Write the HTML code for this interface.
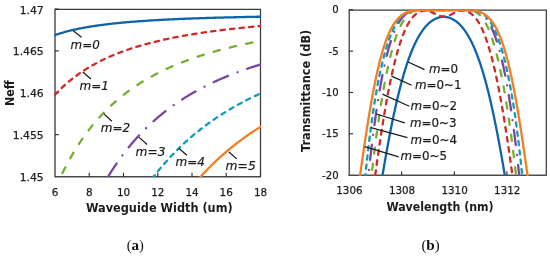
<!DOCTYPE html>
<html><head><meta charset="utf-8"><title>Figure</title>
<style>html,body{margin:0;padding:0;background:#fff}svg{display:block}</style></head>
<body>
<svg width="550" height="258" viewBox="0 0 550 258">
<rect width="550" height="258" fill="#fff"/>
<path d="M55.0 9.25 H260.5 V176.75" fill="none" stroke="#3a3a3a" stroke-width="1.25"/>
<path d="M55.0 8.75 V176.75 H261.0" fill="none" stroke="#484848" stroke-width="1.4"/>
<path d="M89.2 176.75 v-4.1" stroke="#2a2a2a" stroke-width="1.1"/>
<path d="M123.5 176.75 v-4.1" stroke="#2a2a2a" stroke-width="1.1"/>
<path d="M157.8 176.75 v-4.1" stroke="#2a2a2a" stroke-width="1.1"/>
<path d="M192.0 176.75 v-4.1" stroke="#2a2a2a" stroke-width="1.1"/>
<path d="M226.2 176.75 v-4.1" stroke="#2a2a2a" stroke-width="1.1"/>
<path d="M260.5 176.75 v-4.1" stroke="#2a2a2a" stroke-width="1.1"/>
<path d="M55.0 9.1 h3.9" stroke="#2a2a2a" stroke-width="1.1"/>
<path d="M55.0 50.9 h3.9" stroke="#2a2a2a" stroke-width="1.1"/>
<path d="M55.0 92.8 h3.9" stroke="#2a2a2a" stroke-width="1.1"/>
<path d="M55.0 134.7 h3.9" stroke="#2a2a2a" stroke-width="1.1"/>
<clipPath id="ca"><rect x="54.4" y="8.65" width="206.7" height="168.7"/></clipPath>
<g clip-path="url(#ca)" fill="none" stroke-linecap="round" stroke-width="2.30">
<path d="M55.00 35.05 L56.00 34.71 L57.00 34.37 L58.00 34.05 L59.00 33.73 L60.00 33.42 L61.00 33.12 L62.00 32.82 L63.00 32.53 L64.00 32.25 L65.00 31.97 L66.00 31.70 L67.00 31.44 L68.00 31.18 L69.00 30.93 L70.00 30.68 L71.00 30.44 L72.00 30.20 L73.00 29.97 L74.00 29.74 L75.00 29.52 L76.00 29.30 L77.00 29.09 L78.00 28.88 L79.00 28.67 L80.00 28.47 L81.00 28.27 L82.00 28.08 L83.00 27.89 L84.00 27.71 L85.00 27.52 L86.00 27.35 L87.00 27.17 L88.00 27.00 L89.00 26.83 L90.00 26.67 L91.00 26.50 L92.00 26.35 L93.00 26.19 L94.00 26.04 L95.00 25.89 L96.00 25.74 L97.00 25.59 L98.00 25.45 L99.00 25.31 L100.00 25.17 L101.00 25.04 L102.00 24.91 L103.00 24.78 L104.00 24.65 L105.00 24.52 L106.00 24.40 L107.00 24.28 L108.00 24.16 L109.00 24.04 L110.00 23.92 L111.00 23.81 L112.00 23.70 L113.00 23.59 L114.00 23.48 L115.00 23.37 L116.00 23.27 L117.00 23.17 L118.00 23.07 L119.00 22.97 L120.00 22.87 L121.00 22.77 L122.00 22.68 L123.00 22.58 L124.00 22.49 L125.00 22.40 L126.00 22.31 L127.00 22.22 L128.00 22.14 L129.00 22.05 L130.00 21.97 L131.00 21.88 L132.00 21.80 L133.00 21.72 L134.00 21.64 L135.00 21.56 L136.00 21.49 L137.00 21.41 L138.00 21.34 L139.00 21.26 L140.00 21.19 L141.00 21.12 L142.00 21.05 L143.00 20.98 L144.00 20.91 L145.00 20.84 L146.00 20.78 L147.00 20.71 L148.00 20.65 L149.00 20.58 L150.00 20.52 L151.00 20.46 L152.00 20.40 L153.00 20.34 L154.00 20.28 L155.00 20.22 L156.00 20.16 L157.00 20.10 L158.00 20.05 L159.00 19.99 L160.00 19.94 L161.00 19.88 L162.00 19.83 L163.00 19.77 L164.00 19.72 L165.00 19.67 L166.00 19.62 L167.00 19.57 L168.00 19.52 L169.00 19.47 L170.00 19.42 L171.00 19.37 L172.00 19.33 L173.00 19.28 L174.00 19.23 L175.00 19.19 L176.00 19.14 L177.00 19.10 L178.00 19.06 L179.00 19.01 L180.00 18.97 L181.00 18.93 L182.00 18.89 L183.00 18.84 L184.00 18.80 L185.00 18.76 L186.00 18.72 L187.00 18.68 L188.00 18.65 L189.00 18.61 L190.00 18.57 L191.00 18.53 L192.00 18.49 L193.00 18.46 L194.00 18.42 L195.00 18.39 L196.00 18.35 L197.00 18.32 L198.00 18.28 L199.00 18.25 L200.00 18.21 L201.00 18.18 L202.00 18.15 L203.00 18.11 L204.00 18.08 L205.00 18.05 L206.00 18.02 L207.00 17.99 L208.00 17.95 L209.00 17.92 L210.00 17.89 L211.00 17.86 L212.00 17.83 L213.00 17.80 L214.00 17.77 L215.00 17.75 L216.00 17.72 L217.00 17.69 L218.00 17.66 L219.00 17.63 L220.00 17.61 L221.00 17.58 L222.00 17.55 L223.00 17.53 L224.00 17.50 L225.00 17.47 L226.00 17.45 L227.00 17.42 L228.00 17.40 L229.00 17.37 L230.00 17.35 L231.00 17.32 L232.00 17.30 L233.00 17.28 L234.00 17.25 L235.00 17.23 L236.00 17.20 L237.00 17.18 L238.00 17.16 L239.00 17.14 L240.00 17.11 L241.00 17.09 L242.00 17.07 L243.00 17.05 L244.00 17.03 L245.00 17.01 L246.00 16.98 L247.00 16.96 L248.00 16.94 L249.00 16.92 L250.00 16.90 L251.00 16.88 L252.00 16.86 L253.00 16.84 L254.00 16.82 L255.00 16.80 L256.00 16.78 L257.00 16.77 L258.00 16.75 L259.00 16.73 L260.00 16.71 L261.00 16.69" stroke="#0F63A8"/>
<path d="M55.00 94.70 L56.00 93.63 L57.00 92.58 L58.00 91.56 L59.00 90.55 L60.00 89.56 L61.00 88.59 L62.00 87.64 L63.00 86.71 L64.00 85.79 L65.00 84.89 L66.00 84.00 L67.00 83.13 L68.00 82.28 L69.00 81.44 L70.00 80.61 L71.00 79.80 L72.00 79.00 L73.00 78.22 L74.00 77.45 L75.00 76.69 L76.00 75.95 L77.00 75.21 L78.00 74.49 L79.00 73.79 L80.00 73.09 L81.00 72.41 L82.00 71.73 L83.00 71.07 L84.00 70.42 L85.00 69.78 L86.00 69.14 L87.00 68.52 L88.00 67.91 L89.00 67.31 L90.00 66.72 L91.00 66.13 L92.00 65.56 L93.00 64.99 L94.00 64.43 L95.00 63.89 L96.00 63.34 L97.00 62.81 L98.00 62.29 L99.00 61.77 L100.00 61.26 L101.00 60.76 L102.00 60.27 L103.00 59.78 L104.00 59.30 L105.00 58.83 L106.00 58.36 L107.00 57.90 L108.00 57.45 L109.00 57.00 L110.00 56.56 L111.00 56.13 L112.00 55.70 L113.00 55.28 L114.00 54.86 L115.00 54.45 L116.00 54.05 L117.00 53.65 L118.00 53.26 L119.00 52.87 L120.00 52.48 L121.00 52.11 L122.00 51.73 L123.00 51.37 L124.00 51.00 L125.00 50.64 L126.00 50.29 L127.00 49.94 L128.00 49.60 L129.00 49.26 L130.00 48.92 L131.00 48.59 L132.00 48.26 L133.00 47.94 L134.00 47.62 L135.00 47.31 L136.00 47.00 L137.00 46.69 L138.00 46.39 L139.00 46.09 L140.00 45.79 L141.00 45.50 L142.00 45.21 L143.00 44.92 L144.00 44.64 L145.00 44.37 L146.00 44.09 L147.00 43.82 L148.00 43.55 L149.00 43.29 L150.00 43.02 L151.00 42.77 L152.00 42.51 L153.00 42.26 L154.00 42.01 L155.00 41.76 L156.00 41.52 L157.00 41.28 L158.00 41.04 L159.00 40.80 L160.00 40.57 L161.00 40.34 L162.00 40.11 L163.00 39.89 L164.00 39.66 L165.00 39.44 L166.00 39.23 L167.00 39.01 L168.00 38.80 L169.00 38.59 L170.00 38.38 L171.00 38.17 L172.00 37.97 L173.00 37.77 L174.00 37.57 L175.00 37.37 L176.00 37.18 L177.00 36.99 L178.00 36.79 L179.00 36.61 L180.00 36.42 L181.00 36.23 L182.00 36.05 L183.00 35.87 L184.00 35.69 L185.00 35.52 L186.00 35.34 L187.00 35.17 L188.00 34.99 L189.00 34.82 L190.00 34.66 L191.00 34.49 L192.00 34.33 L193.00 34.16 L194.00 34.00 L195.00 33.84 L196.00 33.68 L197.00 33.53 L198.00 33.37 L199.00 33.22 L200.00 33.07 L201.00 32.92 L202.00 32.77 L203.00 32.62 L204.00 32.47 L205.00 32.33 L206.00 32.19 L207.00 32.04 L208.00 31.90 L209.00 31.76 L210.00 31.63 L211.00 31.49 L212.00 31.35 L213.00 31.22 L214.00 31.09 L215.00 30.96 L216.00 30.83 L217.00 30.70 L218.00 30.57 L219.00 30.44 L220.00 30.32 L221.00 30.19 L222.00 30.07 L223.00 29.95 L224.00 29.83 L225.00 29.71 L226.00 29.59 L227.00 29.47 L228.00 29.36 L229.00 29.24 L230.00 29.13 L231.00 29.01 L232.00 28.90 L233.00 28.79 L234.00 28.68 L235.00 28.57 L236.00 28.46 L237.00 28.35 L238.00 28.25 L239.00 28.14 L240.00 28.04 L241.00 27.93 L242.00 27.83 L243.00 27.73 L244.00 27.63 L245.00 27.53 L246.00 27.43 L247.00 27.33 L248.00 27.23 L249.00 27.14 L250.00 27.04 L251.00 26.95 L252.00 26.85 L253.00 26.76 L254.00 26.66 L255.00 26.57 L256.00 26.48 L257.00 26.39 L258.00 26.30 L259.00 26.21 L260.00 26.12 L261.00 26.04" stroke="#CF2A28" stroke-dasharray="4.35 5.2"/>
<path d="M62.50 172.99 L63.50 170.97 L64.50 168.99 L65.50 167.04 L66.50 165.13 L67.50 163.25 L68.50 161.41 L69.50 159.60 L70.50 157.81 L71.50 156.07 L72.50 154.35 L73.50 152.66 L74.50 151.00 L75.50 149.36 L76.50 147.76 L77.50 146.18 L78.50 144.63 L79.50 143.10 L80.50 141.60 L81.50 140.13 L82.50 138.68 L83.50 137.25 L84.50 135.84 L85.50 134.46 L86.50 133.10 L87.50 131.76 L88.50 130.45 L89.50 129.15 L90.50 127.88 L91.50 126.62 L92.50 125.38 L93.50 124.17 L94.50 122.97 L95.50 121.79 L96.50 120.63 L97.50 119.48 L98.50 118.35 L99.50 117.24 L100.50 116.15 L101.50 115.07 L102.50 114.01 L103.50 112.96 L104.50 111.93 L105.50 110.92 L106.50 109.92 L107.50 108.93 L108.50 107.96 L109.50 107.00 L110.50 106.05 L111.50 105.12 L112.50 104.20 L113.50 103.30 L114.50 102.41 L115.50 101.52 L116.50 100.66 L117.50 99.80 L118.50 98.95 L119.50 98.12 L120.50 97.30 L121.50 96.49 L122.50 95.69 L123.50 94.90 L124.50 94.12 L125.50 93.35 L126.50 92.59 L127.50 91.85 L128.50 91.11 L129.50 90.38 L130.50 89.66 L131.50 88.95 L132.50 88.25 L133.50 87.56 L134.50 86.87 L135.50 86.20 L136.50 85.53 L137.50 84.88 L138.50 84.23 L139.50 83.58 L140.50 82.95 L141.50 82.33 L142.50 81.71 L143.50 81.10 L144.50 80.50 L145.50 79.90 L146.50 79.31 L147.50 78.73 L148.50 78.16 L149.50 77.59 L150.50 77.03 L151.50 76.48 L152.50 75.93 L153.50 75.39 L154.50 74.86 L155.50 74.33 L156.50 73.81 L157.50 73.29 L158.50 72.78 L159.50 72.28 L160.50 71.78 L161.50 71.29 L162.50 70.80 L163.50 70.32 L164.50 69.84 L165.50 69.37 L166.50 68.91 L167.50 68.45 L168.50 67.99 L169.50 67.54 L170.50 67.10 L171.50 66.66 L172.50 66.22 L173.50 65.79 L174.50 65.37 L175.50 64.95 L176.50 64.53 L177.50 64.12 L178.50 63.71 L179.50 63.31 L180.50 62.91 L181.50 62.51 L182.50 62.12 L183.50 61.74 L184.50 61.35 L185.50 60.98 L186.50 60.60 L187.50 60.23 L188.50 59.86 L189.50 59.50 L190.50 59.14 L191.50 58.79 L192.50 58.44 L193.50 58.09 L194.50 57.74 L195.50 57.40 L196.50 57.07 L197.50 56.73 L198.50 56.40 L199.50 56.07 L200.50 55.75 L201.50 55.43 L202.50 55.11 L203.50 54.79 L204.50 54.48 L205.50 54.17 L206.50 53.87 L207.50 53.57 L208.50 53.27 L209.50 52.97 L210.50 52.68 L211.50 52.38 L212.50 52.10 L213.50 51.81 L214.50 51.53 L215.50 51.25 L216.50 50.97 L217.50 50.70 L218.50 50.42 L219.50 50.15 L220.50 49.89 L221.50 49.62 L222.50 49.36 L223.50 49.10 L224.50 48.84 L225.50 48.59 L226.50 48.33 L227.50 48.08 L228.50 47.84 L229.50 47.59 L230.50 47.35 L231.50 47.10 L232.50 46.87 L233.50 46.63 L234.50 46.39 L235.50 46.16 L236.50 45.93 L237.50 45.70 L238.50 45.47 L239.50 45.25 L240.50 45.03 L241.50 44.81 L242.50 44.59 L243.50 44.37 L244.50 44.15 L245.50 43.94 L246.50 43.73 L247.50 43.52 L248.50 43.31 L249.50 43.11 L250.50 42.90 L251.50 42.70 L252.50 42.50 L253.50 42.30 L254.50 42.10 L255.50 41.91 L256.50 41.71 L257.50 41.52 L258.50 41.33 L259.50 41.14 L260.50 40.95" stroke="#76AE2F" stroke-dasharray="6.4 10.31"/>
<path d="M107.00 178.48 L108.00 176.82 L109.00 175.18 L110.00 173.57 L111.00 171.98 L112.00 170.41 L113.00 168.87 L114.00 167.34 L115.00 165.84 L116.00 164.37 L117.00 162.91 L118.00 161.47 L119.00 160.05 L120.00 158.66 L121.00 157.28 L122.00 155.92 L123.00 154.58 L124.00 153.26 L125.00 151.96 L126.00 150.67 L127.00 149.41 L128.00 148.15 L129.00 146.92 L130.00 145.70 L131.00 144.50 L132.00 143.32 L133.00 142.15 L134.00 140.99 L135.00 139.86 L136.00 138.73 L137.00 137.62 L138.00 136.53 L139.00 135.45 L140.00 134.38 L141.00 133.33 L142.00 132.29 L143.00 131.26 L144.00 130.25 L145.00 129.25 L146.00 128.26 L147.00 127.28 L148.00 126.32 L149.00 125.37 L150.00 124.43 L151.00 123.50 L152.00 122.58 L153.00 121.67 L154.00 120.78 L155.00 119.89 L156.00 119.02 L157.00 118.16 L158.00 117.30 L159.00 116.46 L160.00 115.63 L161.00 114.80 L162.00 113.99 L163.00 113.19 L164.00 112.39 L165.00 111.61 L166.00 110.83 L167.00 110.06 L168.00 109.30 L169.00 108.55 L170.00 107.81 L171.00 107.08 L172.00 106.35 L173.00 105.64 L174.00 104.93 L175.00 104.23 L176.00 103.53 L177.00 102.85 L178.00 102.17 L179.00 101.50 L180.00 100.84 L181.00 100.18 L182.00 99.53 L183.00 98.89 L184.00 98.26 L185.00 97.63 L186.00 97.01 L187.00 96.39 L188.00 95.79 L189.00 95.19 L190.00 94.59 L191.00 94.00 L192.00 93.42 L193.00 92.84 L194.00 92.27 L195.00 91.71 L196.00 91.15 L197.00 90.60 L198.00 90.05 L199.00 89.51 L200.00 88.97 L201.00 88.44 L202.00 87.92 L203.00 87.40 L204.00 86.88 L205.00 86.37 L206.00 85.87 L207.00 85.37 L208.00 84.87 L209.00 84.38 L210.00 83.90 L211.00 83.42 L212.00 82.94 L213.00 82.47 L214.00 82.01 L215.00 81.55 L216.00 81.09 L217.00 80.64 L218.00 80.19 L219.00 79.74 L220.00 79.30 L221.00 78.87 L222.00 78.44 L223.00 78.01 L224.00 77.59 L225.00 77.17 L226.00 76.75 L227.00 76.34 L228.00 75.93 L229.00 75.53 L230.00 75.13 L231.00 74.73 L232.00 74.34 L233.00 73.95 L234.00 73.57 L235.00 73.18 L236.00 72.81 L237.00 72.43 L238.00 72.06 L239.00 71.69 L240.00 71.33 L241.00 70.96 L242.00 70.60 L243.00 70.25 L244.00 69.90 L245.00 69.55 L246.00 69.20 L247.00 68.86 L248.00 68.52 L249.00 68.18 L250.00 67.85 L251.00 67.52 L252.00 67.19 L253.00 66.86 L254.00 66.54 L255.00 66.22 L256.00 65.90 L257.00 65.59 L258.00 65.28 L259.00 64.97 L260.00 64.66 L261.00 64.36" stroke="#7B45A0" stroke-dasharray="15.7 10.15 0.01 10.14" stroke-dashoffset="33.98"/>
<path d="M153.30 177.12 L154.30 175.82 L155.30 174.55 L156.30 173.28 L157.30 172.04 L158.30 170.80 L159.30 169.58 L160.30 168.38 L161.30 167.18 L162.30 166.00 L163.30 164.84 L164.30 163.69 L165.30 162.55 L166.30 161.42 L167.30 160.31 L168.30 159.20 L169.30 158.11 L170.30 157.04 L171.30 155.97 L172.30 154.92 L173.30 153.87 L174.30 152.84 L175.30 151.82 L176.30 150.81 L177.30 149.81 L178.30 148.83 L179.30 147.85 L180.30 146.88 L181.30 145.92 L182.30 144.98 L183.30 144.04 L184.30 143.11 L185.30 142.20 L186.30 141.29 L187.30 140.39 L188.30 139.50 L189.30 138.62 L190.30 137.75 L191.30 136.89 L192.30 136.04 L193.30 135.19 L194.30 134.35 L195.30 133.53 L196.30 132.71 L197.30 131.90 L198.30 131.09 L199.30 130.30 L200.30 129.51 L201.30 128.73 L202.30 127.96 L203.30 127.20 L204.30 126.44 L205.30 125.69 L206.30 124.95 L207.30 124.21 L208.30 123.48 L209.30 122.76 L210.30 122.05 L211.30 121.34 L212.30 120.64 L213.30 119.95 L214.30 119.26 L215.30 118.58 L216.30 117.91 L217.30 117.24 L218.30 116.58 L219.30 115.92 L220.30 115.27 L221.30 114.63 L222.30 113.99 L223.30 113.36 L224.30 112.73 L225.30 112.11 L226.30 111.50 L227.30 110.89 L228.30 110.29 L229.30 109.69 L230.30 109.10 L231.30 108.51 L232.30 107.93 L233.30 107.35 L234.30 106.78 L235.30 106.21 L236.30 105.65 L237.30 105.10 L238.30 104.54 L239.30 104.00 L240.30 103.46 L241.30 102.92 L242.30 102.39 L243.30 101.86 L244.30 101.33 L245.30 100.82 L246.30 100.30 L247.30 99.79 L248.30 99.29 L249.30 98.78 L250.30 98.29 L251.30 97.79 L252.30 97.31 L253.30 96.82 L254.30 96.34 L255.30 95.86 L256.30 95.39 L257.30 94.92 L258.30 94.46 L259.30 94.00 L260.30 93.54 L261.30 93.09" stroke="#0E9DBB" stroke-dasharray="4.3 5.2" stroke-dashoffset="1.88"/>
<path d="M200.30 177.10 L201.30 175.99 L202.30 174.89 L203.30 173.80 L204.30 172.72 L205.30 171.66 L206.30 170.61 L207.30 169.56 L208.30 168.53 L209.30 167.51 L210.30 166.50 L211.30 165.50 L212.30 164.51 L213.30 163.54 L214.30 162.57 L215.30 161.61 L216.30 160.66 L217.30 159.72 L218.30 158.80 L219.30 157.88 L220.30 156.97 L221.30 156.07 L222.30 155.17 L223.30 154.29 L224.30 153.42 L225.30 152.55 L226.30 151.70 L227.30 150.85 L228.30 150.01 L229.30 149.18 L230.30 148.35 L231.30 147.54 L232.30 146.73 L233.30 145.93 L234.30 145.14 L235.30 144.36 L236.30 143.58 L237.30 142.81 L238.30 142.05 L239.30 141.30 L240.30 140.55 L241.30 139.81 L242.30 139.08 L243.30 138.35 L244.30 137.63 L245.30 136.92 L246.30 136.21 L247.30 135.51 L248.30 134.82 L249.30 134.13 L250.30 133.45 L251.30 132.78 L252.30 132.11 L253.30 131.45 L254.30 130.80 L255.30 130.15 L256.30 129.50 L257.30 128.86 L258.30 128.23 L259.30 127.61 L260.30 126.99 L261.30 126.37" stroke="#F57E20"/>
</g>
<g font-family="'DejaVu Sans','Liberation Sans',sans-serif" fill="#1c1c1c">
<g font-size="10.8" text-anchor="end" stroke="#222" stroke-width="0.25">
<text x="43.7" y="13.6">1.47</text>
<text x="43.7" y="55.4">1.465</text>
<text x="43.7" y="97.3">1.46</text>
<text x="43.7" y="139.2">1.455</text>
<text x="43.7" y="181.1">1.45</text>
</g>
<g font-size="10.4" text-anchor="middle" stroke="#222" stroke-width="0.25">
<text x="55.0" y="196.4">6</text>
<text x="89.2" y="196.4">8</text>
<text x="123.5" y="196.4">10</text>
<text x="157.8" y="196.4">12</text>
<text x="192.0" y="196.4">14</text>
<text x="226.2" y="196.4">16</text>
<text x="260.5" y="196.4">18</text>
</g>
<text x="159.3" y="212.3" font-size="12.6" font-weight="bold" text-anchor="middle" font-family="'DejaVu Sans Condensed','DejaVu Sans','Liberation Sans',sans-serif">Waveguide Width (um)</text>
<text transform="translate(13.9 93.1) rotate(-90)" font-size="12.4" font-weight="bold" text-anchor="middle" font-family="'DejaVu Sans Condensed','DejaVu Sans','Liberation Sans',sans-serif">Neff</text>
<path d="M73.2 30.8 L81.5 37.3" stroke="#1a1a1a" stroke-width="1.25"/>
<text x="70.6" y="48.5" font-size="11.9" font-style="italic" stroke="#222" stroke-width="0.2">m=0</text>
<path d="M82.8 72 L90.9 79" stroke="#1a1a1a" stroke-width="1.25"/>
<text x="79.5" y="90.1" font-size="12.0" font-style="italic" stroke="#222" stroke-width="0.2">m=1</text>
<path d="M103.7 113.6 L111.8 121.3" stroke="#1a1a1a" stroke-width="1.25"/>
<text x="100.7" y="132.0" font-size="12.0" font-style="italic" stroke="#222" stroke-width="0.2">m=2</text>
<path d="M138.8 137.1 L147.1 144.5" stroke="#1a1a1a" stroke-width="1.25"/>
<text x="135.6" y="156.0" font-size="12.2" font-style="italic" stroke="#222" stroke-width="0.2">m=3</text>
<path d="M178.8 148.3 L186.9 155.3" stroke="#1a1a1a" stroke-width="1.25"/>
<text x="175.6" y="166.0" font-size="12.0" font-style="italic" stroke="#222" stroke-width="0.2">m=4</text>
<path d="M228.9 152 L236.8 158.9" stroke="#1a1a1a" stroke-width="1.25"/>
<text x="225.6" y="170.4" font-size="12.3" font-style="italic" stroke="#222" stroke-width="0.2">m=5</text>
<path d="M349.1 10.0 H546.3 V175.3" fill="none" stroke="#3a3a3a" stroke-width="1.25"/>
<path d="M349.20000000000005 9.5 V175.9" fill="none" stroke="#363636" stroke-width="1.25"/>
<path d="M348.6 175.20000000000002 H546.8" fill="none" stroke="#4c4c4c" stroke-width="1.5"/>
<path d="M401.7 175.3 v-4.1" stroke="#2a2a2a" stroke-width="1.1"/>
<path d="M454.3 175.3 v-4.1" stroke="#2a2a2a" stroke-width="1.1"/>
<path d="M506.9 175.3 v-4.1" stroke="#2a2a2a" stroke-width="1.1"/>
<path d="M349.1 9.8 h3.9" stroke="#2a2a2a" stroke-width="1.1"/>
<path d="M349.1 51.1 h3.9" stroke="#2a2a2a" stroke-width="1.1"/>
<path d="M349.1 92.5 h3.9" stroke="#2a2a2a" stroke-width="1.1"/>
<path d="M349.1 133.8 h3.9" stroke="#2a2a2a" stroke-width="1.1"/>
<clipPath id="cb"><rect x="348.5" y="9.7" width="198.39999999999992" height="166.20000000000002"/></clipPath>
<g clip-path="url(#cb)" fill="none" stroke-linecap="round" stroke-width="2.30">
<path d="M379.65 192.49 L380.15 189.43 L380.65 186.38 L381.15 183.34 L381.65 180.33 L382.15 177.33 L382.65 174.36 L383.15 171.40 L383.65 168.47 L384.15 165.56 L384.65 162.67 L385.15 159.80 L385.65 156.96 L386.15 154.15 L386.65 151.36 L387.15 148.60 L387.65 145.87 L388.15 143.16 L388.65 140.48 L389.15 137.83 L389.65 135.21 L390.15 132.62 L390.65 130.06 L391.15 127.53 L391.65 125.03 L392.15 122.56 L392.65 120.13 L393.15 117.72 L393.65 115.35 L394.15 113.00 L394.65 110.69 L395.15 108.42 L395.65 106.17 L396.15 103.96 L396.65 101.78 L397.15 99.63 L397.65 97.51 L398.15 95.43 L398.65 93.38 L399.15 91.36 L399.65 89.38 L400.15 87.43 L400.65 85.51 L401.15 83.62 L401.65 81.76 L402.15 79.94 L402.65 78.15 L403.15 76.39 L403.65 74.67 L404.15 72.97 L404.65 71.31 L405.15 69.68 L405.65 68.08 L406.15 66.51 L406.65 64.97 L407.15 63.46 L407.65 61.98 L408.15 60.53 L408.65 59.11 L409.15 57.73 L409.65 56.37 L410.15 55.04 L410.65 53.74 L411.15 52.46 L411.65 51.22 L412.15 50.00 L412.65 48.81 L413.15 47.65 L413.65 46.51 L414.15 45.41 L414.65 44.32 L415.15 43.27 L415.65 42.24 L416.15 41.23 L416.65 40.26 L417.15 39.30 L417.65 38.37 L418.15 37.46 L418.65 36.58 L419.15 35.72 L419.65 34.89 L420.15 34.08 L420.65 33.29 L421.15 32.52 L421.65 31.78 L422.15 31.05 L422.65 30.35 L423.15 29.67 L423.65 29.01 L424.15 28.37 L424.65 27.75 L425.15 27.15 L425.65 26.57 L426.15 26.01 L426.65 25.47 L427.15 24.95 L427.65 24.44 L428.15 23.96 L428.65 23.49 L429.15 23.04 L429.65 22.61 L430.15 22.19 L430.65 21.79 L431.15 21.41 L431.65 21.05 L432.15 20.70 L432.65 20.37 L433.15 20.05 L433.65 19.76 L434.15 19.47 L434.65 19.20 L435.15 18.95 L435.65 18.71 L436.15 18.49 L436.65 18.28 L437.15 18.09 L437.65 17.91 L438.15 17.75 L438.65 17.60 L439.15 17.47 L439.65 17.35 L440.15 17.24 L440.65 17.15 L441.15 17.07 L441.65 17.01 L442.15 16.96 L442.65 16.93 L443.15 16.91 L443.65 16.90 L444.15 16.91 L444.65 16.93 L445.15 16.96 L445.65 17.01 L446.15 17.07 L446.65 17.15 L447.15 17.24 L447.65 17.35 L448.15 17.47 L448.65 17.60 L449.15 17.75 L449.65 17.91 L450.15 18.09 L450.65 18.28 L451.15 18.49 L451.65 18.71 L452.15 18.95 L452.65 19.20 L453.15 19.47 L453.65 19.76 L454.15 20.05 L454.65 20.37 L455.15 20.70 L455.65 21.05 L456.15 21.41 L456.65 21.79 L457.15 22.19 L457.65 22.61 L458.15 23.04 L458.65 23.49 L459.15 23.96 L459.65 24.44 L460.15 24.95 L460.65 25.47 L461.15 26.01 L461.65 26.57 L462.15 27.15 L462.65 27.75 L463.15 28.37 L463.65 29.01 L464.15 29.67 L464.65 30.35 L465.15 31.05 L465.65 31.78 L466.15 32.52 L466.65 33.29 L467.15 34.08 L467.65 34.89 L468.15 35.72 L468.65 36.58 L469.15 37.46 L469.65 38.37 L470.15 39.30 L470.65 40.26 L471.15 41.23 L471.65 42.24 L472.15 43.27 L472.65 44.32 L473.15 45.41 L473.65 46.51 L474.15 47.65 L474.65 48.81 L475.15 50.00 L475.65 51.22 L476.15 52.46 L476.65 53.74 L477.15 55.04 L477.65 56.37 L478.15 57.73 L478.65 59.11 L479.15 60.53 L479.65 61.98 L480.15 63.46 L480.65 64.97 L481.15 66.51 L481.65 68.08 L482.15 69.68 L482.65 71.31 L483.15 72.97 L483.65 74.67 L484.15 76.39 L484.65 78.15 L485.15 79.94 L485.65 81.76 L486.15 83.62 L486.65 85.51 L487.15 87.43 L487.65 89.38 L488.15 91.36 L488.65 93.38 L489.15 95.43 L489.65 97.51 L490.15 99.63 L490.65 101.78 L491.15 103.96 L491.65 106.17 L492.15 108.42 L492.65 110.69 L493.15 113.00 L493.65 115.35 L494.15 117.72 L494.65 120.13 L495.15 122.56 L495.65 125.03 L496.15 127.53 L496.65 130.06 L497.15 132.62 L497.65 135.21 L498.15 137.83 L498.65 140.48 L499.15 143.16 L499.65 145.87 L500.15 148.60 L500.65 151.36 L501.15 154.15 L501.65 156.96 L502.15 159.80 L502.65 162.67 L503.15 165.56 L503.65 168.47 L504.15 171.40 L504.65 174.36 L505.15 177.33 L505.65 180.33 L506.15 183.34 L506.65 186.38 L507.15 189.43 L507.65 192.49" stroke="#0F63A8"/>
<path d="M374.17 183.00 L374.48 180.65 L374.79 178.32 L375.10 176.01 L375.41 173.72 L375.72 171.45 L376.03 169.21 L376.33 166.98 L376.64 164.78 L376.94 162.59 L377.24 160.43 L377.54 158.29 L377.84 156.17 L378.14 154.07 L378.44 151.99 L378.74 149.93 L379.04 147.89 L379.33 145.87 L379.63 143.87 L379.92 141.89 L380.22 139.92 L380.51 137.98 L380.80 136.06 L381.09 134.16 L381.38 132.28 L381.67 130.41 L381.96 128.57 L382.25 126.74 L382.54 124.93 L382.83 123.15 L383.11 121.38 L383.40 119.63 L383.68 117.89 L383.96 116.18 L384.25 114.49 L384.53 112.81 L384.81 111.15 L385.09 109.51 L385.37 107.89 L385.65 106.28 L385.93 104.69 L386.21 103.12 L386.49 101.57 L386.77 100.04 L387.04 98.52 L387.32 97.02 L387.60 95.53 L387.87 94.07 L388.14 92.62 L388.42 91.19 L388.69 89.77 L388.97 88.37 L389.24 86.99 L389.51 85.62 L389.78 84.27 L390.05 82.94 L390.32 81.62 L390.59 80.32 L390.86 79.04 L391.13 77.77 L391.40 76.52 L391.67 75.28 L391.93 74.06 L392.20 72.85 L392.47 71.66 L392.73 70.48 L393.00 69.32 L393.26 68.17 L393.53 67.04 L393.79 65.93 L394.05 64.83 L394.32 63.74 L394.58 62.67 L394.84 61.61 L395.11 60.57 L395.37 59.54 L395.63 58.52 L395.89 57.52 L396.15 56.54 L396.41 55.57 L396.67 54.61 L396.93 53.66 L397.19 52.73 L397.44 51.81 L397.70 50.91 L397.96 50.02 L398.22 49.14 L398.47 48.27 L398.73 47.42 L398.99 46.58 L399.24 45.76 L399.50 44.94 L399.75 44.14 L400.01 43.35 L400.26 42.58 L400.52 41.81 L400.77 41.06 L401.02 40.32 L401.27 39.59 L401.53 38.88 L401.78 38.18 L402.03 37.48 L402.28 36.80 L402.53 36.13 L402.78 35.48 L403.03 34.83 L403.28 34.20 L403.53 33.57 L403.78 32.96 L404.03 32.36 L404.28 31.77 L404.53 31.19 L404.78 30.62 L405.02 30.06 L405.27 29.51 L405.52 28.97 L405.76 28.45 L406.01 27.93 L406.25 27.42 L406.50 26.92 L406.74 26.44 L406.99 25.96 L407.23 25.49 L407.48 25.03 L407.72 24.58 L407.96 24.14 L408.21 23.71 L408.45 23.29 L408.69 22.88 L408.93 22.47 L409.17 22.08 L409.41 21.69 L409.65 21.31 L409.89 20.95 L410.13 20.59 L410.37 20.23 L410.61 19.89 L410.85 19.56 L411.09 19.23 L411.32 18.91 L411.56 18.60 L411.80 18.29 L412.03 18.00 L412.27 17.71 L412.51 17.43 L412.74 17.16 L412.98 16.89 L413.21 16.63 L413.44 16.38 L413.68 16.13 L413.91 15.90 L414.14 15.66 L414.37 15.44 L414.60 15.22 L414.84 15.01 L415.07 14.81 L415.30 14.61 L415.53 14.41 L415.75 14.23 L415.98 14.05 L416.21 13.87 L416.44 13.70 L416.67 13.54 L416.89 13.38 L417.12 13.23 L417.34 13.09 L417.57 12.95 L417.79 12.81 L418.02 12.68 L418.24 12.55 L418.46 12.43 L418.68 12.32 L418.90 12.21 L419.13 12.10 L419.35 12.00 L419.56 11.90 L419.78 11.81 L420.00 11.72 L420.22 11.63 L420.44 11.55 L420.65 11.47 L420.87 11.40 L421.08 11.33 L421.29 11.27 L421.51 11.20 L421.72 11.15 L421.93 11.09 L422.14 11.04 L422.35 10.99 L422.56 10.94 L422.77 10.90 L422.97 10.86 L423.18 10.82 L423.38 10.79 L423.59 10.76 L423.79 10.73 L423.99 10.70 L424.19 10.67 L424.39 10.65 L424.59 10.63 L424.79 10.61 L424.98 10.60 L425.17 10.58 L425.37 10.57 L425.56 10.56 L425.75 10.56 L425.93 10.57 L426.12 10.57 L426.30 10.58 L426.48 10.60 L426.66 10.62 L426.84 10.64 L427.01 10.66 L427.18 10.69 L427.35 10.72 L427.51 10.75 L427.67 10.78 L427.82 10.82 L427.96 10.85 L428.07 10.88 L428.57 11.01 L429.07 11.16 L429.57 11.33 L430.07 11.52 L430.57 11.72 L431.07 11.93 L431.57 12.15 L432.07 12.39 L432.57 12.63 L433.07 12.88 L433.57 13.13 L434.07 13.38 L434.57 13.64 L435.07 13.89 L435.57 14.15 L436.07 14.39 L436.57 14.64 L437.07 14.87 L437.57 15.09 L438.07 15.30 L438.57 15.50 L439.07 15.68 L439.57 15.85 L440.07 16.00 L440.57 16.13 L441.07 16.25 L441.57 16.34 L442.07 16.41 L442.57 16.46 L443.07 16.49 L444.17 16.50 L444.67 16.49 L445.17 16.45 L445.67 16.39 L446.17 16.31 L446.67 16.22 L447.17 16.10 L447.67 15.96 L448.17 15.80 L448.67 15.63 L449.17 15.44 L449.67 15.24 L450.17 15.03 L450.67 14.80 L451.17 14.57 L451.67 14.32 L452.17 14.07 L452.67 13.82 L453.17 13.56 L453.67 13.31 L454.17 13.05 L454.67 12.80 L455.17 12.56 L455.67 12.32 L456.17 12.09 L456.67 11.87 L457.17 11.66 L457.67 11.46 L458.17 11.28 L458.67 11.12 L459.53 10.88 L459.64 10.85 L459.78 10.82 L459.93 10.78 L460.09 10.75 L460.25 10.72 L460.42 10.69 L460.59 10.66 L460.76 10.64 L460.94 10.62 L461.12 10.60 L461.30 10.58 L461.48 10.57 L461.67 10.57 L461.85 10.56 L462.04 10.56 L462.23 10.57 L462.43 10.58 L462.62 10.60 L462.81 10.61 L463.01 10.63 L463.21 10.65 L463.41 10.67 L463.61 10.70 L463.81 10.73 L464.01 10.76 L464.22 10.79 L464.42 10.82 L464.63 10.86 L464.83 10.90 L465.04 10.94 L465.25 10.99 L465.46 11.04 L465.67 11.09 L465.88 11.15 L466.09 11.20 L466.31 11.27 L466.52 11.33 L466.73 11.40 L466.95 11.47 L467.16 11.55 L467.38 11.63 L467.60 11.72 L467.82 11.81 L468.04 11.90 L468.25 12.00 L468.47 12.10 L468.70 12.21 L468.92 12.32 L469.14 12.43 L469.36 12.55 L469.58 12.68 L469.81 12.81 L470.03 12.95 L470.26 13.09 L470.48 13.23 L470.71 13.38 L470.93 13.54 L471.16 13.70 L471.39 13.87 L471.62 14.05 L471.85 14.23 L472.07 14.41 L472.30 14.61 L472.53 14.81 L472.76 15.01 L473.00 15.22 L473.23 15.44 L473.46 15.66 L473.69 15.90 L473.92 16.13 L474.16 16.38 L474.39 16.63 L474.62 16.89 L474.86 17.16 L475.09 17.43 L475.33 17.71 L475.57 18.00 L475.80 18.29 L476.04 18.60 L476.28 18.91 L476.51 19.23 L476.75 19.56 L476.99 19.89 L477.23 20.23 L477.47 20.59 L477.71 20.95 L477.95 21.31 L478.19 21.69 L478.43 22.08 L478.67 22.47 L478.91 22.88 L479.15 23.29 L479.39 23.71 L479.64 24.14 L479.88 24.58 L480.12 25.03 L480.37 25.49 L480.61 25.96 L480.86 26.44 L481.10 26.92 L481.35 27.42 L481.59 27.93 L481.84 28.45 L482.08 28.97 L482.33 29.51 L482.58 30.06 L482.82 30.62 L483.07 31.19 L483.32 31.77 L483.57 32.36 L483.82 32.96 L484.07 33.57 L484.32 34.20 L484.57 34.83 L484.82 35.48 L485.07 36.13 L485.32 36.80 L485.57 37.48 L485.82 38.18 L486.07 38.88 L486.33 39.59 L486.58 40.32 L486.83 41.06 L487.08 41.81 L487.34 42.58 L487.59 43.35 L487.85 44.14 L488.10 44.94 L488.36 45.76 L488.61 46.58 L488.87 47.42 L489.13 48.27 L489.38 49.14 L489.64 50.02 L489.90 50.91 L490.16 51.81 L490.41 52.73 L490.67 53.66 L490.93 54.61 L491.19 55.57 L491.45 56.54 L491.71 57.52 L491.97 58.52 L492.23 59.54 L492.49 60.57 L492.76 61.61 L493.02 62.67 L493.28 63.74 L493.55 64.83 L493.81 65.93 L494.07 67.04 L494.34 68.17 L494.60 69.32 L494.87 70.48 L495.13 71.66 L495.40 72.85 L495.67 74.06 L495.93 75.28 L496.20 76.52 L496.47 77.77 L496.74 79.04 L497.01 80.32 L497.28 81.62 L497.55 82.94 L497.82 84.27 L498.09 85.62 L498.36 86.99 L498.63 88.37 L498.91 89.77 L499.18 91.19 L499.46 92.62 L499.73 94.07 L500.00 95.53 L500.28 97.02 L500.56 98.52 L500.83 100.04 L501.11 101.57 L501.39 103.12 L501.67 104.69 L501.95 106.28 L502.23 107.89 L502.51 109.51 L502.79 111.15 L503.07 112.81 L503.35 114.49 L503.64 116.18 L503.92 117.89 L504.20 119.63 L504.49 121.38 L504.77 123.15 L505.06 124.93 L505.35 126.74 L505.64 128.57 L505.93 130.41 L506.22 132.28 L506.51 134.16 L506.80 136.06 L507.09 137.98 L507.38 139.92 L507.68 141.89 L507.97 143.87 L508.27 145.87 L508.56 147.89 L508.86 149.93 L509.16 151.99 L509.46 154.07 L509.76 156.17 L510.06 158.29 L510.36 160.43 L510.66 162.59 L510.96 164.78 L511.27 166.98 L511.57 169.21 L511.88 171.45 L512.19 173.72 L512.50 176.01 L512.81 178.32 L513.12 180.65 L513.43 183.00" stroke="#CF2A28" stroke-dasharray="4.6 5.6" stroke-dashoffset="2.06"/>
<path d="M370.70 183.00 L370.96 180.65 L371.22 178.31 L371.48 176.00 L371.74 173.71 L372.00 171.44 L372.26 169.19 L372.52 166.96 L372.78 164.76 L373.04 162.57 L373.29 160.41 L373.55 158.26 L373.81 156.14 L374.07 154.03 L374.33 151.95 L374.58 149.89 L374.84 147.85 L375.10 145.82 L375.35 143.82 L375.61 141.84 L375.87 139.87 L376.12 137.93 L376.38 136.01 L376.64 134.10 L376.89 132.22 L377.15 130.35 L377.40 128.50 L377.66 126.68 L377.91 124.87 L378.17 123.08 L378.42 121.31 L378.68 119.55 L378.93 117.82 L379.19 116.10 L379.44 114.41 L379.69 112.73 L379.95 111.07 L380.20 109.42 L380.45 107.80 L380.71 106.19 L380.96 104.60 L381.21 103.03 L381.46 101.48 L381.72 99.94 L381.97 98.42 L382.22 96.92 L382.47 95.43 L382.72 93.97 L382.97 92.51 L383.22 91.08 L383.47 89.66 L383.72 88.26 L383.97 86.88 L384.22 85.51 L384.47 84.16 L384.72 82.83 L384.97 81.51 L385.22 80.20 L385.47 78.92 L385.72 77.65 L385.97 76.39 L386.21 75.15 L386.46 73.93 L386.71 72.72 L386.96 71.53 L387.20 70.35 L387.45 69.19 L387.70 68.04 L387.94 66.91 L388.19 65.79 L388.44 64.69 L388.68 63.60 L388.93 62.53 L389.17 61.47 L389.42 60.43 L389.66 59.40 L389.91 58.38 L390.15 57.38 L390.39 56.39 L390.64 55.42 L390.88 54.46 L391.12 53.51 L391.37 52.58 L391.61 51.66 L391.85 50.75 L392.09 49.86 L392.34 48.98 L392.58 48.12 L392.82 47.26 L393.06 46.42 L393.30 45.60 L393.54 44.78 L393.78 43.98 L394.02 43.19 L394.26 42.41 L394.50 41.65 L394.74 40.90 L394.98 40.16 L395.22 39.43 L395.46 38.71 L395.69 38.01 L395.93 37.32 L396.17 36.63 L396.41 35.96 L396.64 35.31 L396.88 34.66 L397.12 34.02 L397.35 33.40 L397.59 32.79 L397.82 32.18 L398.06 31.59 L398.29 31.01 L398.53 30.44 L398.76 29.88 L398.99 29.33 L399.23 28.80 L399.46 28.27 L399.69 27.75 L399.92 27.24 L400.16 26.74 L400.39 26.25 L400.62 25.78 L400.85 25.31 L401.08 24.85 L401.31 24.40 L401.54 23.96 L401.77 23.53 L402.00 23.10 L402.23 22.69 L402.46 22.29 L402.69 21.89 L402.91 21.50 L403.14 21.13 L403.37 20.76 L403.59 20.40 L403.82 20.05 L404.05 19.70 L404.27 19.37 L404.50 19.04 L404.72 18.72 L404.95 18.41 L405.17 18.10 L405.39 17.81 L405.62 17.52 L405.84 17.24 L406.06 16.96 L406.28 16.70 L406.50 16.44 L406.72 16.18 L406.94 15.94 L407.16 15.70 L407.38 15.47 L407.60 15.25 L407.82 15.03 L408.04 14.82 L408.25 14.61 L408.47 14.41 L408.69 14.22 L408.90 14.03 L409.12 13.85 L409.33 13.68 L409.55 13.51 L409.76 13.34 L409.98 13.19 L410.19 13.04 L410.40 12.89 L410.61 12.75 L410.82 12.61 L411.03 12.48 L411.24 12.36 L411.45 12.23 L411.66 12.12 L411.87 12.01 L412.07 11.90 L412.28 11.80 L412.49 11.70 L412.69 11.61 L412.90 11.52 L413.10 11.43 L413.30 11.35 L413.51 11.28 L413.71 11.20 L413.91 11.13 L414.11 11.07 L414.31 11.00 L414.51 10.95 L414.70 10.89 L414.90 10.84 L415.10 10.79 L415.29 10.74 L415.48 10.70 L415.68 10.66 L415.87 10.62 L416.06 10.59 L416.25 10.56 L416.44 10.53 L416.62 10.50 L416.81 10.48 L417.00 10.45 L417.18 10.43 L417.36 10.41 L417.54 10.40 L417.72 10.38 L417.90 10.37 L418.08 10.36 L418.25 10.35 L418.42 10.34 L418.59 10.33 L418.76 10.32 L418.93 10.32 L419.09 10.31 L419.26 10.31 L419.41 10.31 L419.57 10.30 L419.72 10.30 L419.87 10.30 L420.01 10.30 L420.14 10.30 L420.27 10.30 L420.37 10.30 L420.87 10.30 L421.37 10.30 L421.87 10.30 L422.37 10.30 L422.87 10.30 L423.37 10.30 L423.87 10.30 L424.37 10.30 L424.87 10.30 L425.37 10.30 L425.87 10.30 L426.37 10.30 L426.87 10.30 L427.37 10.30 L427.87 10.30 L428.37 10.30 L428.87 10.30 L429.37 10.30 L429.87 10.30 L430.37 10.30 L430.87 10.30 L431.37 10.30 L431.87 10.30 L432.37 10.30 L432.87 10.30 L433.37 10.30 L433.87 10.30 L434.37 10.30 L434.87 10.30 L435.37 10.30 L435.87 10.30 L436.37 10.30 L436.87 10.30 L437.37 10.30 L437.87 10.30 L438.37 10.30 L438.87 10.30 L439.37 10.30 L439.87 10.30 L440.37 10.30 L440.87 10.30 L441.37 10.30 L441.87 10.30 L442.37 10.30 L442.87 10.30 L443.37 10.30 L444.47 10.30 L444.97 10.30 L445.47 10.30 L445.97 10.30 L446.47 10.30 L446.97 10.30 L447.47 10.30 L447.97 10.30 L448.47 10.30 L448.97 10.30 L449.47 10.30 L449.97 10.30 L450.47 10.30 L450.97 10.30 L451.47 10.30 L451.97 10.30 L452.47 10.30 L452.97 10.30 L453.47 10.30 L453.97 10.30 L454.47 10.30 L454.97 10.30 L455.47 10.30 L455.97 10.30 L456.47 10.30 L456.97 10.30 L457.47 10.30 L457.97 10.30 L458.47 10.30 L458.97 10.30 L459.47 10.30 L459.97 10.30 L460.47 10.30 L460.97 10.30 L461.47 10.30 L461.97 10.30 L462.47 10.30 L462.97 10.30 L463.47 10.30 L463.97 10.30 L464.47 10.30 L464.97 10.30 L465.47 10.30 L465.97 10.30 L466.47 10.30 L467.23 10.30 L467.33 10.30 L467.46 10.30 L467.59 10.30 L467.73 10.30 L467.88 10.30 L468.03 10.30 L468.19 10.31 L468.34 10.31 L468.51 10.31 L468.67 10.32 L468.84 10.32 L469.01 10.33 L469.18 10.34 L469.35 10.35 L469.52 10.36 L469.70 10.37 L469.88 10.38 L470.06 10.40 L470.24 10.41 L470.42 10.43 L470.60 10.45 L470.79 10.48 L470.98 10.50 L471.16 10.53 L471.35 10.56 L471.54 10.59 L471.73 10.62 L471.92 10.66 L472.12 10.70 L472.31 10.74 L472.50 10.79 L472.70 10.84 L472.90 10.89 L473.09 10.95 L473.29 11.00 L473.49 11.07 L473.69 11.13 L473.89 11.20 L474.09 11.28 L474.30 11.35 L474.50 11.43 L474.70 11.52 L474.91 11.61 L475.11 11.70 L475.32 11.80 L475.53 11.90 L475.73 12.01 L475.94 12.12 L476.15 12.23 L476.36 12.36 L476.57 12.48 L476.78 12.61 L476.99 12.75 L477.20 12.89 L477.41 13.04 L477.62 13.19 L477.84 13.34 L478.05 13.51 L478.27 13.68 L478.48 13.85 L478.70 14.03 L478.91 14.22 L479.13 14.41 L479.35 14.61 L479.56 14.82 L479.78 15.03 L480.00 15.25 L480.22 15.47 L480.44 15.70 L480.66 15.94 L480.88 16.18 L481.10 16.44 L481.32 16.70 L481.54 16.96 L481.76 17.24 L481.98 17.52 L482.21 17.81 L482.43 18.10 L482.65 18.41 L482.88 18.72 L483.10 19.04 L483.33 19.37 L483.55 19.70 L483.78 20.05 L484.01 20.40 L484.23 20.76 L484.46 21.13 L484.69 21.50 L484.91 21.89 L485.14 22.29 L485.37 22.69 L485.60 23.10 L485.83 23.53 L486.06 23.96 L486.29 24.40 L486.52 24.85 L486.75 25.31 L486.98 25.78 L487.21 26.25 L487.44 26.74 L487.68 27.24 L487.91 27.75 L488.14 28.27 L488.37 28.80 L488.61 29.33 L488.84 29.88 L489.07 30.44 L489.31 31.01 L489.54 31.59 L489.78 32.18 L490.01 32.79 L490.25 33.40 L490.48 34.02 L490.72 34.66 L490.96 35.31 L491.19 35.96 L491.43 36.63 L491.67 37.32 L491.91 38.01 L492.14 38.71 L492.38 39.43 L492.62 40.16 L492.86 40.90 L493.10 41.65 L493.34 42.41 L493.58 43.19 L493.82 43.98 L494.06 44.78 L494.30 45.60 L494.54 46.42 L494.78 47.26 L495.02 48.12 L495.26 48.98 L495.51 49.86 L495.75 50.75 L495.99 51.66 L496.23 52.58 L496.48 53.51 L496.72 54.46 L496.96 55.42 L497.21 56.39 L497.45 57.38 L497.69 58.38 L497.94 59.40 L498.18 60.43 L498.43 61.47 L498.67 62.53 L498.92 63.60 L499.16 64.69 L499.41 65.79 L499.66 66.91 L499.90 68.04 L500.15 69.19 L500.40 70.35 L500.64 71.53 L500.89 72.72 L501.14 73.93 L501.39 75.15 L501.63 76.39 L501.88 77.65 L502.13 78.92 L502.38 80.20 L502.63 81.51 L502.88 82.83 L503.13 84.16 L503.38 85.51 L503.63 86.88 L503.88 88.26 L504.13 89.66 L504.38 91.08 L504.63 92.51 L504.88 93.97 L505.13 95.43 L505.38 96.92 L505.63 98.42 L505.88 99.94 L506.14 101.48 L506.39 103.03 L506.64 104.60 L506.89 106.19 L507.15 107.80 L507.40 109.42 L507.65 111.07 L507.91 112.73 L508.16 114.41 L508.41 116.10 L508.67 117.82 L508.92 119.55 L509.18 121.31 L509.43 123.08 L509.69 124.87 L509.94 126.68 L510.20 128.50 L510.45 130.35 L510.71 132.22 L510.96 134.10 L511.22 136.01 L511.48 137.93 L511.73 139.87 L511.99 141.84 L512.25 143.82 L512.50 145.82 L512.76 147.85 L513.02 149.89 L513.27 151.95 L513.53 154.03 L513.79 156.14 L514.05 158.26 L514.31 160.41 L514.56 162.57 L514.82 164.76 L515.08 166.96 L515.34 169.19 L515.60 171.44 L515.86 173.71 L516.12 176.00 L516.38 178.31 L516.64 180.65 L516.90 183.00" stroke="#76AE2F" stroke-dasharray="6.2 10.16" stroke-dashoffset="3.22"/>
<path d="M367.58 183.00 L367.83 180.64 L368.07 178.31 L368.32 176.00 L368.56 173.70 L368.81 171.43 L369.05 169.18 L369.29 166.95 L369.54 164.75 L369.78 162.56 L370.03 160.39 L370.27 158.25 L370.52 156.12 L370.76 154.02 L371.01 151.93 L371.25 149.87 L371.49 147.83 L371.74 145.80 L371.98 143.80 L372.23 141.81 L372.47 139.85 L372.72 137.90 L372.96 135.98 L373.21 134.07 L373.45 132.19 L373.69 130.32 L373.94 128.47 L374.18 126.64 L374.43 124.83 L374.67 123.04 L374.91 121.27 L375.16 119.52 L375.40 117.78 L375.65 116.06 L375.89 114.37 L376.13 112.69 L376.38 111.02 L376.62 109.38 L376.87 107.75 L377.11 106.15 L377.35 104.56 L377.60 102.98 L377.84 101.43 L378.09 99.89 L378.33 98.37 L378.57 96.87 L378.82 95.38 L379.06 93.91 L379.31 92.46 L379.55 91.03 L379.79 89.61 L380.04 88.21 L380.28 86.82 L380.52 85.46 L380.77 84.10 L381.01 82.77 L381.25 81.45 L381.50 80.14 L381.74 78.86 L381.99 77.59 L382.23 76.33 L382.47 75.09 L382.72 73.87 L382.96 72.66 L383.20 71.46 L383.45 70.29 L383.69 69.12 L383.93 67.98 L384.18 66.84 L384.42 65.72 L384.66 64.62 L384.91 63.53 L385.15 62.46 L385.39 61.40 L385.64 60.36 L385.88 59.32 L386.12 58.31 L386.36 57.31 L386.61 56.32 L386.85 55.34 L387.09 54.38 L387.34 53.44 L387.58 52.50 L387.82 51.58 L388.07 50.68 L388.31 49.78 L388.55 48.90 L388.79 48.04 L389.04 47.18 L389.28 46.34 L389.52 45.52 L389.77 44.70 L390.01 43.90 L390.25 43.11 L390.49 42.33 L390.74 41.57 L390.98 40.81 L391.22 40.07 L391.46 39.35 L391.71 38.63 L391.95 37.92 L392.19 37.23 L392.43 36.55 L392.68 35.88 L392.92 35.22 L393.16 34.57 L393.40 33.94 L393.64 33.31 L393.89 32.70 L394.13 32.10 L394.37 31.51 L394.61 30.92 L394.85 30.35 L395.10 29.79 L395.34 29.24 L395.58 28.71 L395.82 28.18 L396.06 27.66 L396.31 27.15 L396.55 26.65 L396.79 26.16 L397.03 25.68 L397.27 25.22 L397.51 24.76 L397.76 24.31 L398.00 23.86 L398.24 23.43 L398.48 23.01 L398.72 22.60 L398.96 22.19 L399.20 21.80 L399.45 21.41 L399.69 21.03 L399.93 20.66 L400.17 20.30 L400.41 19.95 L400.65 19.61 L400.89 19.27 L401.13 18.94 L401.37 18.62 L401.62 18.31 L401.86 18.01 L402.10 17.71 L402.34 17.42 L402.58 17.14 L402.82 16.87 L403.06 16.60 L403.30 16.34 L403.54 16.09 L403.78 15.84 L404.02 15.60 L404.26 15.37 L404.50 15.15 L404.74 14.93 L404.98 14.72 L405.22 14.51 L405.46 14.31 L405.70 14.12 L405.94 13.93 L406.18 13.75 L406.42 13.58 L406.66 13.41 L406.90 13.25 L407.14 13.09 L407.38 12.94 L407.62 12.79 L407.86 12.65 L408.10 12.51 L408.34 12.38 L408.58 12.26 L408.82 12.14 L409.06 12.02 L409.30 11.91 L409.54 11.80 L409.77 11.70 L410.01 11.60 L410.25 11.51 L410.49 11.42 L410.73 11.33 L410.97 11.25 L411.21 11.18 L411.44 11.10 L411.68 11.03 L411.92 10.97 L412.16 10.91 L412.40 10.85 L412.63 10.79 L412.87 10.74 L413.11 10.69 L413.35 10.64 L413.58 10.60 L413.82 10.56 L414.06 10.52 L414.29 10.49 L414.53 10.46 L414.77 10.43 L415.00 10.40 L415.24 10.38 L415.48 10.35 L415.71 10.33 L415.95 10.31 L416.18 10.30 L416.42 10.28 L416.65 10.27 L416.89 10.26 L417.12 10.25 L417.36 10.24 L417.59 10.23 L417.83 10.22 L418.06 10.22 L418.29 10.21 L418.53 10.21 L418.76 10.21 L418.99 10.20 L419.22 10.20 L419.45 10.20 L419.68 10.20 L419.91 10.20 L420.14 10.20 L420.36 10.20 L420.86 10.20 L421.36 10.20 L421.86 10.20 L422.36 10.20 L422.86 10.20 L423.36 10.20 L423.86 10.20 L424.36 10.20 L424.86 10.20 L425.36 10.20 L425.86 10.20 L426.36 10.20 L426.86 10.20 L427.36 10.20 L427.86 10.20 L428.36 10.20 L428.86 10.20 L429.36 10.20 L429.86 10.20 L430.36 10.20 L430.86 10.20 L431.36 10.20 L431.86 10.20 L432.36 10.20 L432.86 10.20 L433.36 10.20 L433.86 10.20 L434.36 10.20 L434.86 10.20 L435.36 10.20 L435.86 10.20 L436.36 10.20 L436.86 10.20 L437.36 10.20 L437.86 10.20 L438.36 10.20 L438.86 10.20 L439.36 10.20 L439.86 10.20 L440.36 10.20 L440.86 10.20 L441.36 10.20 L441.86 10.20 L442.36 10.20 L442.86 10.20 L443.36 10.20 L444.46 10.20 L444.96 10.20 L445.46 10.20 L445.96 10.20 L446.46 10.20 L446.96 10.20 L447.46 10.20 L447.96 10.20 L448.46 10.20 L448.96 10.20 L449.46 10.20 L449.96 10.20 L450.46 10.20 L450.96 10.20 L451.46 10.20 L451.96 10.20 L452.46 10.20 L452.96 10.20 L453.46 10.20 L453.96 10.20 L454.46 10.20 L454.96 10.20 L455.46 10.20 L455.96 10.20 L456.46 10.20 L456.96 10.20 L457.46 10.20 L457.96 10.20 L458.46 10.20 L458.96 10.20 L459.46 10.20 L459.96 10.20 L460.46 10.20 L460.96 10.20 L461.46 10.20 L461.96 10.20 L462.46 10.20 L462.96 10.20 L463.46 10.20 L463.96 10.20 L464.46 10.20 L464.96 10.20 L465.46 10.20 L465.96 10.20 L466.46 10.20 L467.24 10.20 L467.46 10.20 L467.69 10.20 L467.92 10.20 L468.15 10.20 L468.38 10.20 L468.61 10.20 L468.84 10.21 L469.07 10.21 L469.31 10.21 L469.54 10.22 L469.77 10.22 L470.01 10.23 L470.24 10.24 L470.48 10.25 L470.71 10.26 L470.95 10.27 L471.18 10.28 L471.42 10.30 L471.65 10.31 L471.89 10.33 L472.12 10.35 L472.36 10.38 L472.60 10.40 L472.83 10.43 L473.07 10.46 L473.31 10.49 L473.54 10.52 L473.78 10.56 L474.02 10.60 L474.25 10.64 L474.49 10.69 L474.73 10.74 L474.97 10.79 L475.20 10.85 L475.44 10.91 L475.68 10.97 L475.92 11.03 L476.16 11.10 L476.39 11.18 L476.63 11.25 L476.87 11.33 L477.11 11.42 L477.35 11.51 L477.59 11.60 L477.83 11.70 L478.06 11.80 L478.30 11.91 L478.54 12.02 L478.78 12.14 L479.02 12.26 L479.26 12.38 L479.50 12.51 L479.74 12.65 L479.98 12.79 L480.22 12.94 L480.46 13.09 L480.70 13.25 L480.94 13.41 L481.18 13.58 L481.42 13.75 L481.66 13.93 L481.90 14.12 L482.14 14.31 L482.38 14.51 L482.62 14.72 L482.86 14.93 L483.10 15.15 L483.34 15.37 L483.58 15.60 L483.82 15.84 L484.06 16.09 L484.30 16.34 L484.54 16.60 L484.78 16.87 L485.02 17.14 L485.26 17.42 L485.50 17.71 L485.74 18.01 L485.98 18.31 L486.23 18.62 L486.47 18.94 L486.71 19.27 L486.95 19.61 L487.19 19.95 L487.43 20.30 L487.67 20.66 L487.91 21.03 L488.15 21.41 L488.40 21.80 L488.64 22.19 L488.88 22.60 L489.12 23.01 L489.36 23.43 L489.60 23.86 L489.84 24.31 L490.09 24.76 L490.33 25.22 L490.57 25.68 L490.81 26.16 L491.05 26.65 L491.29 27.15 L491.54 27.66 L491.78 28.18 L492.02 28.71 L492.26 29.24 L492.50 29.79 L492.75 30.35 L492.99 30.92 L493.23 31.51 L493.47 32.10 L493.71 32.70 L493.96 33.31 L494.20 33.94 L494.44 34.57 L494.68 35.22 L494.92 35.88 L495.17 36.55 L495.41 37.23 L495.65 37.92 L495.89 38.63 L496.14 39.35 L496.38 40.07 L496.62 40.81 L496.86 41.57 L497.11 42.33 L497.35 43.11 L497.59 43.90 L497.83 44.70 L498.08 45.52 L498.32 46.34 L498.56 47.18 L498.81 48.04 L499.05 48.90 L499.29 49.78 L499.53 50.68 L499.78 51.58 L500.02 52.50 L500.26 53.44 L500.51 54.38 L500.75 55.34 L500.99 56.32 L501.24 57.31 L501.48 58.31 L501.72 59.32 L501.96 60.36 L502.21 61.40 L502.45 62.46 L502.69 63.53 L502.94 64.62 L503.18 65.72 L503.42 66.84 L503.67 67.98 L503.91 69.12 L504.15 70.29 L504.40 71.46 L504.64 72.66 L504.88 73.87 L505.13 75.09 L505.37 76.33 L505.61 77.59 L505.86 78.86 L506.10 80.14 L506.35 81.45 L506.59 82.77 L506.83 84.10 L507.08 85.46 L507.32 86.82 L507.56 88.21 L507.81 89.61 L508.05 91.03 L508.29 92.46 L508.54 93.91 L508.78 95.38 L509.03 96.87 L509.27 98.37 L509.51 99.89 L509.76 101.43 L510.00 102.98 L510.25 104.56 L510.49 106.15 L510.73 107.75 L510.98 109.38 L511.22 111.02 L511.47 112.69 L511.71 114.37 L511.95 116.06 L512.20 117.78 L512.44 119.52 L512.69 121.27 L512.93 123.04 L513.17 124.83 L513.42 126.64 L513.66 128.47 L513.91 130.32 L514.15 132.19 L514.39 134.07 L514.64 135.98 L514.88 137.90 L515.13 139.85 L515.37 141.81 L515.62 143.80 L515.86 145.80 L516.11 147.83 L516.35 149.87 L516.59 151.93 L516.84 154.02 L517.08 156.12 L517.33 158.25 L517.57 160.39 L517.82 162.56 L518.06 164.75 L518.31 166.95 L518.55 169.18 L518.79 171.43 L519.04 173.70 L519.28 176.00 L519.53 178.31 L519.77 180.64 L520.02 183.00" stroke="#7B45A0" stroke-dasharray="15.3 9.93 0.01 9.93" stroke-dashoffset="12.0"/>
<path d="M364.63 183.00 L364.86 180.64 L365.09 178.31 L365.32 175.99 L365.55 173.70 L365.78 171.43 L366.01 169.18 L366.24 166.95 L366.48 164.74 L366.71 162.55 L366.94 160.39 L367.18 158.24 L367.42 156.11 L367.65 154.01 L367.89 151.92 L368.13 149.86 L368.37 147.82 L368.61 145.79 L368.85 143.79 L369.09 141.80 L369.33 139.84 L369.57 137.89 L369.81 135.97 L370.05 134.06 L370.30 132.17 L370.54 130.31 L370.78 128.46 L371.03 126.63 L371.27 124.82 L371.52 123.03 L371.77 121.25 L372.01 119.50 L372.26 117.76 L372.51 116.05 L372.75 114.35 L373.00 112.67 L373.25 111.00 L373.50 109.36 L373.75 107.73 L374.00 106.12 L374.25 104.53 L374.50 102.96 L374.75 101.41 L375.00 99.87 L375.26 98.35 L375.51 96.84 L375.76 95.36 L376.01 93.89 L376.27 92.44 L376.52 91.00 L376.77 89.58 L377.03 88.18 L377.28 86.80 L377.53 85.43 L377.79 84.07 L378.04 82.74 L378.30 81.42 L378.55 80.12 L378.81 78.83 L379.06 77.56 L379.32 76.30 L379.57 75.06 L379.83 73.83 L380.09 72.63 L380.34 71.43 L380.60 70.25 L380.86 69.09 L381.11 67.94 L381.37 66.81 L381.63 65.69 L381.89 64.59 L382.14 63.50 L382.40 62.42 L382.66 61.36 L382.92 60.32 L383.17 59.29 L383.43 58.27 L383.69 57.27 L383.95 56.28 L384.21 55.31 L384.47 54.35 L384.72 53.40 L384.98 52.47 L385.24 51.55 L385.50 50.64 L385.76 49.75 L386.02 48.87 L386.28 48.00 L386.54 47.15 L386.79 46.30 L387.05 45.48 L387.31 44.66 L387.57 43.86 L387.83 43.07 L388.09 42.29 L388.35 41.53 L388.61 40.77 L388.87 40.03 L389.13 39.30 L389.39 38.59 L389.64 37.88 L389.90 37.19 L390.16 36.51 L390.42 35.84 L390.68 35.18 L390.94 34.53 L391.20 33.90 L391.46 33.27 L391.72 32.66 L391.98 32.05 L392.24 31.46 L392.49 30.88 L392.75 30.31 L393.01 29.75 L393.27 29.20 L393.53 28.66 L393.79 28.13 L394.05 27.61 L394.31 27.11 L394.57 26.61 L394.82 26.12 L395.08 25.64 L395.34 25.17 L395.60 24.71 L395.86 24.26 L396.12 23.82 L396.37 23.39 L396.63 22.96 L396.89 22.55 L397.15 22.15 L397.41 21.75 L397.66 21.36 L397.92 20.99 L398.18 20.62 L398.44 20.26 L398.69 19.90 L398.95 19.56 L399.21 19.22 L399.47 18.90 L399.72 18.58 L399.98 18.26 L400.24 17.96 L400.49 17.66 L400.75 17.37 L401.01 17.09 L401.26 16.82 L401.52 16.55 L401.78 16.29 L402.03 16.04 L402.29 15.79 L402.54 15.56 L402.80 15.32 L403.05 15.10 L403.31 14.88 L403.56 14.67 L403.82 14.46 L404.07 14.26 L404.33 14.07 L404.58 13.89 L404.84 13.70 L405.09 13.53 L405.35 13.36 L405.60 13.20 L405.86 13.04 L406.11 12.89 L406.36 12.74 L406.62 12.60 L406.87 12.46 L407.12 12.33 L407.38 12.21 L407.63 12.09 L407.88 11.97 L408.13 11.86 L408.38 11.75 L408.64 11.65 L408.89 11.55 L409.14 11.46 L409.39 11.37 L409.64 11.28 L409.89 11.20 L410.14 11.13 L410.39 11.05 L410.64 10.98 L410.89 10.92 L411.14 10.86 L411.39 10.80 L411.64 10.74 L411.89 10.69 L412.14 10.64 L412.39 10.59 L412.63 10.55 L412.88 10.51 L413.13 10.47 L413.38 10.44 L413.62 10.41 L413.87 10.38 L414.12 10.35 L414.36 10.33 L414.61 10.30 L414.85 10.28 L415.09 10.26 L415.34 10.25 L415.58 10.23 L415.82 10.22 L416.07 10.21 L416.31 10.20 L416.55 10.19 L416.79 10.18 L417.03 10.17 L417.27 10.17 L417.50 10.16 L417.74 10.16 L417.98 10.16 L418.21 10.15 L418.44 10.15 L418.67 10.15 L418.90 10.15 L419.13 10.15 L419.35 10.15 L419.56 10.15 L420.06 10.15 L420.56 10.15 L421.06 10.15 L421.56 10.15 L422.06 10.15 L422.56 10.15 L423.06 10.15 L423.56 10.15 L424.06 10.15 L424.56 10.15 L425.06 10.15 L425.56 10.15 L426.06 10.15 L426.56 10.15 L427.06 10.15 L427.56 10.15 L428.06 10.15 L428.56 10.15 L429.06 10.15 L429.56 10.15 L430.06 10.15 L430.56 10.15 L431.06 10.15 L431.56 10.15 L432.06 10.15 L432.56 10.15 L433.06 10.15 L433.56 10.15 L434.06 10.15 L434.56 10.15 L435.06 10.15 L435.56 10.15 L436.06 10.15 L436.56 10.15 L437.06 10.15 L437.56 10.15 L438.06 10.15 L438.56 10.15 L439.06 10.15 L439.56 10.15 L440.06 10.15 L440.56 10.15 L441.06 10.15 L441.56 10.15 L442.06 10.15 L442.56 10.15 L443.06 10.15 L444.16 10.15 L444.66 10.15 L445.16 10.15 L445.66 10.15 L446.16 10.15 L446.66 10.15 L447.16 10.15 L447.66 10.15 L448.16 10.15 L448.66 10.15 L449.16 10.15 L449.66 10.15 L450.16 10.15 L450.66 10.15 L451.16 10.15 L451.66 10.15 L452.16 10.15 L452.66 10.15 L453.16 10.15 L453.66 10.15 L454.16 10.15 L454.66 10.15 L455.16 10.15 L455.66 10.15 L456.16 10.15 L456.66 10.15 L457.16 10.15 L457.66 10.15 L458.16 10.15 L458.66 10.15 L459.16 10.15 L459.66 10.15 L460.16 10.15 L460.66 10.15 L461.16 10.15 L461.66 10.15 L462.16 10.15 L462.66 10.15 L463.16 10.15 L463.66 10.15 L464.16 10.15 L464.66 10.15 L465.16 10.15 L465.66 10.15 L466.16 10.15 L466.66 10.15 L467.16 10.15 L468.04 10.15 L468.25 10.15 L468.47 10.15 L468.70 10.15 L468.93 10.15 L469.16 10.15 L469.39 10.15 L469.62 10.16 L469.86 10.16 L470.10 10.16 L470.33 10.17 L470.57 10.17 L470.81 10.18 L471.05 10.19 L471.29 10.20 L471.53 10.21 L471.78 10.22 L472.02 10.23 L472.26 10.25 L472.51 10.26 L472.75 10.28 L472.99 10.30 L473.24 10.33 L473.48 10.35 L473.73 10.38 L473.98 10.41 L474.22 10.44 L474.47 10.47 L474.72 10.51 L474.97 10.55 L475.21 10.59 L475.46 10.64 L475.71 10.69 L475.96 10.74 L476.21 10.80 L476.46 10.86 L476.71 10.92 L476.96 10.98 L477.21 11.05 L477.46 11.13 L477.71 11.20 L477.96 11.28 L478.21 11.37 L478.46 11.46 L478.71 11.55 L478.96 11.65 L479.22 11.75 L479.47 11.86 L479.72 11.97 L479.97 12.09 L480.22 12.21 L480.48 12.33 L480.73 12.46 L480.98 12.60 L481.24 12.74 L481.49 12.89 L481.74 13.04 L482.00 13.20 L482.25 13.36 L482.51 13.53 L482.76 13.70 L483.02 13.89 L483.27 14.07 L483.53 14.26 L483.78 14.46 L484.04 14.67 L484.29 14.88 L484.55 15.10 L484.80 15.32 L485.06 15.56 L485.31 15.79 L485.57 16.04 L485.82 16.29 L486.08 16.55 L486.34 16.82 L486.59 17.09 L486.85 17.37 L487.11 17.66 L487.36 17.96 L487.62 18.26 L487.88 18.58 L488.13 18.90 L488.39 19.22 L488.65 19.56 L488.91 19.90 L489.16 20.26 L489.42 20.62 L489.68 20.99 L489.94 21.36 L490.19 21.75 L490.45 22.15 L490.71 22.55 L490.97 22.96 L491.23 23.39 L491.48 23.82 L491.74 24.26 L492.00 24.71 L492.26 25.17 L492.52 25.64 L492.78 26.12 L493.03 26.61 L493.29 27.11 L493.55 27.61 L493.81 28.13 L494.07 28.66 L494.33 29.20 L494.59 29.75 L494.85 30.31 L495.11 30.88 L495.36 31.46 L495.62 32.05 L495.88 32.66 L496.14 33.27 L496.40 33.90 L496.66 34.53 L496.92 35.18 L497.18 35.84 L497.44 36.51 L497.70 37.19 L497.96 37.88 L498.21 38.59 L498.47 39.30 L498.73 40.03 L498.99 40.77 L499.25 41.53 L499.51 42.29 L499.77 43.07 L500.03 43.86 L500.29 44.66 L500.55 45.48 L500.81 46.30 L501.06 47.15 L501.32 48.00 L501.58 48.87 L501.84 49.75 L502.10 50.64 L502.36 51.55 L502.62 52.47 L502.88 53.40 L503.13 54.35 L503.39 55.31 L503.65 56.28 L503.91 57.27 L504.17 58.27 L504.43 59.29 L504.68 60.32 L504.94 61.36 L505.20 62.42 L505.46 63.50 L505.71 64.59 L505.97 65.69 L506.23 66.81 L506.49 67.94 L506.74 69.09 L507.00 70.25 L507.26 71.43 L507.51 72.63 L507.77 73.83 L508.03 75.06 L508.28 76.30 L508.54 77.56 L508.79 78.83 L509.05 80.12 L509.30 81.42 L509.56 82.74 L509.81 84.07 L510.07 85.43 L510.32 86.80 L510.57 88.18 L510.83 89.58 L511.08 91.00 L511.33 92.44 L511.59 93.89 L511.84 95.36 L512.09 96.84 L512.34 98.35 L512.60 99.87 L512.85 101.41 L513.10 102.96 L513.35 104.53 L513.60 106.12 L513.85 107.73 L514.10 109.36 L514.35 111.00 L514.60 112.67 L514.85 114.35 L515.09 116.05 L515.34 117.76 L515.59 119.50 L515.83 121.25 L516.08 123.03 L516.33 124.82 L516.57 126.63 L516.82 128.46 L517.06 130.31 L517.30 132.17 L517.55 134.06 L517.79 135.97 L518.03 137.89 L518.27 139.84 L518.51 141.80 L518.75 143.79 L518.99 145.79 L519.23 147.82 L519.47 149.86 L519.71 151.92 L519.95 154.01 L520.18 156.11 L520.42 158.24 L520.66 160.39 L520.89 162.55 L521.12 164.74 L521.36 166.95 L521.59 169.18 L521.82 171.43 L522.05 173.70 L522.28 175.99 L522.51 178.31 L522.74 180.64 L522.97 183.00" stroke="#0E9DBB" stroke-dasharray="4.2 5.2" stroke-dashoffset="4.66"/>
<path d="M359.04 183.00 L359.37 180.64 L359.69 178.31 L360.01 175.99 L360.33 173.70 L360.64 171.43 L360.96 169.17 L361.27 166.94 L361.58 164.74 L361.89 162.55 L362.20 160.38 L362.51 158.23 L362.81 156.11 L363.12 154.00 L363.42 151.92 L363.72 149.85 L364.02 147.81 L364.32 145.78 L364.61 143.78 L364.91 141.79 L365.20 139.82 L365.50 137.88 L365.79 135.95 L366.08 134.05 L366.37 132.16 L366.66 130.29 L366.95 128.44 L367.24 126.61 L367.52 124.80 L367.81 123.01 L368.09 121.23 L368.37 119.48 L368.66 117.74 L368.94 116.03 L369.22 114.33 L369.50 112.65 L369.78 110.98 L370.06 109.34 L370.34 107.71 L370.61 106.10 L370.89 104.51 L371.16 102.94 L371.44 101.38 L371.71 99.84 L371.99 98.32 L372.26 96.82 L372.54 95.33 L372.81 93.86 L373.08 92.41 L373.35 90.97 L373.62 89.56 L373.89 88.15 L374.16 86.77 L374.43 85.40 L374.70 84.05 L374.97 82.71 L375.24 81.39 L375.51 80.09 L375.78 78.80 L376.05 77.53 L376.32 76.27 L376.59 75.03 L376.85 73.80 L377.12 72.59 L377.39 71.40 L377.66 70.22 L377.92 69.06 L378.19 67.91 L378.46 66.78 L378.72 65.66 L378.99 64.55 L379.26 63.46 L379.52 62.39 L379.79 61.33 L380.06 60.28 L380.32 59.25 L380.59 58.24 L380.86 57.23 L381.12 56.24 L381.39 55.27 L381.66 54.31 L381.93 53.36 L382.19 52.43 L382.46 51.51 L382.73 50.60 L383.00 49.71 L383.27 48.83 L383.53 47.96 L383.80 47.11 L384.07 46.27 L384.34 45.44 L384.61 44.62 L384.88 43.82 L385.15 43.03 L385.42 42.25 L385.69 41.49 L385.96 40.73 L386.23 39.99 L386.50 39.26 L386.77 38.55 L387.04 37.84 L387.32 37.15 L387.59 36.46 L387.86 35.79 L388.14 35.14 L388.41 34.49 L388.69 33.85 L388.96 33.23 L389.24 32.61 L389.51 32.01 L389.79 31.42 L390.06 30.84 L390.34 30.27 L390.62 29.71 L390.90 29.16 L391.18 28.62 L391.46 28.09 L391.74 27.57 L392.02 27.06 L392.30 26.56 L392.58 26.07 L392.86 25.59 L393.15 25.12 L393.43 24.66 L393.71 24.21 L394.00 23.77 L394.29 23.34 L394.57 22.92 L394.86 22.50 L395.15 22.10 L395.44 21.70 L395.73 21.32 L396.02 20.94 L396.31 20.57 L396.60 20.21 L396.89 19.86 L397.18 19.51 L397.48 19.18 L397.77 18.85 L398.07 18.53 L398.37 18.22 L398.66 17.91 L398.96 17.62 L399.26 17.33 L399.56 17.04 L399.87 16.77 L400.17 16.50 L400.47 16.24 L400.78 15.99 L401.08 15.75 L401.39 15.51 L401.70 15.28 L402.01 15.05 L402.32 14.83 L402.63 14.62 L402.94 14.42 L403.25 14.22 L403.57 14.02 L403.89 13.84 L404.20 13.66 L404.52 13.48 L404.84 13.31 L405.16 13.15 L405.49 12.99 L405.81 12.84 L406.14 12.69 L406.46 12.55 L406.79 12.41 L407.12 12.28 L407.46 12.16 L407.79 12.04 L408.13 11.92 L408.46 11.81 L408.80 11.70 L409.14 11.60 L409.49 11.50 L409.83 11.41 L410.18 11.32 L410.53 11.23 L410.88 11.15 L411.23 11.08 L411.59 11.00 L411.95 10.93 L412.31 10.87 L412.67 10.81 L413.04 10.75 L413.40 10.69 L413.77 10.64 L414.15 10.59 L414.53 10.54 L414.91 10.50 L415.29 10.46 L415.68 10.42 L416.07 10.39 L416.46 10.36 L416.86 10.33 L417.26 10.30 L417.67 10.28 L418.08 10.25 L418.50 10.23 L418.92 10.21 L419.35 10.20 L419.78 10.18 L420.22 10.17 L420.67 10.16 L421.13 10.15 L421.59 10.14 L422.06 10.13 L422.54 10.12 L423.04 10.12 L423.54 10.11 L424.06 10.11 L424.60 10.11 L425.16 10.10 L425.74 10.10 L426.35 10.10 L427.00 10.10 L427.71 10.10 L428.52 10.10 L429.71 10.10 L430.21 10.10 L430.71 10.10 L431.21 10.10 L431.71 10.10 L432.21 10.10 L432.71 10.10 L433.21 10.10 L433.71 10.10 L434.21 10.10 L434.71 10.10 L435.21 10.10 L435.71 10.10 L436.21 10.10 L436.71 10.10 L437.21 10.10 L437.71 10.10 L438.21 10.10 L438.71 10.10 L439.21 10.10 L439.71 10.10 L440.21 10.10 L440.71 10.10 L441.21 10.10 L441.71 10.10 L442.21 10.10 L442.71 10.10 L443.21 10.10 L444.31 10.10 L444.81 10.10 L445.31 10.10 L445.81 10.10 L446.31 10.10 L446.81 10.10 L447.31 10.10 L447.81 10.10 L448.31 10.10 L448.81 10.10 L449.31 10.10 L449.81 10.10 L450.31 10.10 L450.81 10.10 L451.31 10.10 L451.81 10.10 L452.31 10.10 L452.81 10.10 L453.31 10.10 L453.81 10.10 L454.31 10.10 L454.81 10.10 L455.31 10.10 L455.81 10.10 L456.31 10.10 L456.81 10.10 L457.31 10.10 L457.89 10.10 L459.08 10.10 L459.89 10.10 L460.60 10.10 L461.25 10.10 L461.86 10.10 L462.44 10.10 L463.00 10.11 L463.54 10.11 L464.06 10.11 L464.56 10.12 L465.06 10.12 L465.54 10.13 L466.01 10.14 L466.47 10.15 L466.93 10.16 L467.38 10.17 L467.82 10.18 L468.25 10.20 L468.68 10.21 L469.10 10.23 L469.52 10.25 L469.93 10.28 L470.34 10.30 L470.74 10.33 L471.14 10.36 L471.53 10.39 L471.92 10.42 L472.31 10.46 L472.69 10.50 L473.07 10.54 L473.45 10.59 L473.83 10.64 L474.20 10.69 L474.56 10.75 L474.93 10.81 L475.29 10.87 L475.65 10.93 L476.01 11.00 L476.37 11.08 L476.72 11.15 L477.07 11.23 L477.42 11.32 L477.77 11.41 L478.11 11.50 L478.46 11.60 L478.80 11.70 L479.14 11.81 L479.47 11.92 L479.81 12.04 L480.14 12.16 L480.48 12.28 L480.81 12.41 L481.14 12.55 L481.46 12.69 L481.79 12.84 L482.11 12.99 L482.44 13.15 L482.76 13.31 L483.08 13.48 L483.40 13.66 L483.71 13.84 L484.03 14.02 L484.35 14.22 L484.66 14.42 L484.97 14.62 L485.28 14.83 L485.59 15.05 L485.90 15.28 L486.21 15.51 L486.52 15.75 L486.82 15.99 L487.13 16.24 L487.43 16.50 L487.73 16.77 L488.04 17.04 L488.34 17.33 L488.64 17.62 L488.94 17.91 L489.23 18.22 L489.53 18.53 L489.83 18.85 L490.12 19.18 L490.42 19.51 L490.71 19.86 L491.00 20.21 L491.29 20.57 L491.58 20.94 L491.87 21.32 L492.16 21.70 L492.45 22.10 L492.74 22.50 L493.03 22.92 L493.31 23.34 L493.60 23.77 L493.89 24.21 L494.17 24.66 L494.45 25.12 L494.74 25.59 L495.02 26.07 L495.30 26.56 L495.58 27.06 L495.86 27.57 L496.14 28.09 L496.42 28.62 L496.70 29.16 L496.98 29.71 L497.26 30.27 L497.54 30.84 L497.81 31.42 L498.09 32.01 L498.36 32.61 L498.64 33.23 L498.91 33.85 L499.19 34.49 L499.46 35.14 L499.74 35.79 L500.01 36.46 L500.28 37.15 L500.56 37.84 L500.83 38.55 L501.10 39.26 L501.37 39.99 L501.64 40.73 L501.91 41.49 L502.18 42.25 L502.45 43.03 L502.72 43.82 L502.99 44.62 L503.26 45.44 L503.53 46.27 L503.80 47.11 L504.07 47.96 L504.33 48.83 L504.60 49.71 L504.87 50.60 L505.14 51.51 L505.41 52.43 L505.67 53.36 L505.94 54.31 L506.21 55.27 L506.48 56.24 L506.74 57.23 L507.01 58.24 L507.28 59.25 L507.54 60.28 L507.81 61.33 L508.08 62.39 L508.34 63.46 L508.61 64.55 L508.88 65.66 L509.14 66.78 L509.41 67.91 L509.68 69.06 L509.94 70.22 L510.21 71.40 L510.48 72.59 L510.75 73.80 L511.01 75.03 L511.28 76.27 L511.55 77.53 L511.82 78.80 L512.09 80.09 L512.36 81.39 L512.63 82.71 L512.90 84.05 L513.17 85.40 L513.44 86.77 L513.71 88.15 L513.98 89.56 L514.25 90.97 L514.52 92.41 L514.79 93.86 L515.06 95.33 L515.34 96.82 L515.61 98.32 L515.89 99.84 L516.16 101.38 L516.44 102.94 L516.71 104.51 L516.99 106.10 L517.26 107.71 L517.54 109.34 L517.82 110.98 L518.10 112.65 L518.38 114.33 L518.66 116.03 L518.94 117.74 L519.23 119.48 L519.51 121.23 L519.79 123.01 L520.08 124.80 L520.36 126.61 L520.65 128.44 L520.94 130.29 L521.23 132.16 L521.52 134.05 L521.81 135.95 L522.10 137.88 L522.40 139.82 L522.69 141.79 L522.99 143.78 L523.28 145.78 L523.58 147.81 L523.88 149.85 L524.18 151.92 L524.48 154.00 L524.79 156.11 L525.09 158.23 L525.40 160.38 L525.71 162.55 L526.02 164.74 L526.33 166.94 L526.64 169.17 L526.96 171.43 L527.27 173.70 L527.59 175.99 L527.91 178.31 L528.23 180.64 L528.56 183.00" stroke="#F57E20"/>
</g>
<g font-size="10.1" text-anchor="end" stroke="#222" stroke-width="0.25">
<text x="338.6" y="13.4">0</text>
<text x="338.6" y="54.7">-5</text>
<text x="338.6" y="96.1">-10</text>
<text x="338.6" y="137.4">-15</text>
<text x="338.6" y="178.7">-20</text>
</g>
<g font-size="10.3" text-anchor="middle" stroke="#222" stroke-width="0.25">
<text x="349.4" y="194.0">1306</text>
<text x="402.0" y="194.0">1308</text>
<text x="454.6" y="194.0">1310</text>
<text x="507.2" y="194.0">1312</text>
</g>
<text x="440" y="211.0" font-size="12.25" font-weight="bold" text-anchor="middle" font-family="'DejaVu Sans Condensed','DejaVu Sans','Liberation Sans',sans-serif">Wavelength (nm)</text>
<text transform="translate(310.4 90.85) rotate(-90)" font-size="12.6" font-weight="bold" text-anchor="middle" font-family="'DejaVu Sans Condensed','DejaVu Sans','Liberation Sans',sans-serif">Transmittance (dB)</text>
<path d="M408.2 62 L424.5 69.6" stroke="#1a1a1a" stroke-width="1.25"/>
<text x="429.0" y="73.2" font-size="11.9" stroke="#222" stroke-width="0.2"><tspan font-style="italic">m</tspan>=0</text>
<path d="M391.5 76.1 L411.6 85.3" stroke="#1a1a1a" stroke-width="1.25"/>
<text x="414.9" y="89.3" font-size="11.9" stroke="#222" stroke-width="0.2"><tspan font-style="italic">m</tspan>=0~1</text>
<path d="M382.4 94.1 L409.3 106.3" stroke="#1a1a1a" stroke-width="1.25"/>
<text x="410.5" y="109.6" font-size="11.9" stroke="#222" stroke-width="0.2"><tspan font-style="italic">m</tspan>=0~2</text>
<path d="M376.4 114 L404.8 122.8" stroke="#1a1a1a" stroke-width="1.25"/>
<text x="410.0" y="127.0" font-size="11.9" stroke="#222" stroke-width="0.2"><tspan font-style="italic">m</tspan>=0~3</text>
<path d="M370.9 127.6 L407.5 137.6" stroke="#1a1a1a" stroke-width="1.25"/>
<text x="410.4" y="144.0" font-size="11.9" stroke="#222" stroke-width="0.2"><tspan font-style="italic">m</tspan>=0~4</text>
<path d="M364.6 146.7 L398.7 156.9" stroke="#1a1a1a" stroke-width="1.25"/>
<text x="400.5" y="160.0" font-size="11.9" stroke="#222" stroke-width="0.2"><tspan font-style="italic">m</tspan>=0~5</text>
</g>
<g font-family="'Liberation Serif','DejaVu Serif',serif" font-size="14" fill="#111" text-anchor="middle">
<text x="135.2" y="250" font-size="14.4">(<tspan font-weight="bold" font-size="15">a</tspan>)</text>
<text x="430.6" y="249.9" font-size="14.9">(<tspan font-weight="bold" font-size="15.2">b</tspan>)</text>
</g>
</svg>
</body></html>
